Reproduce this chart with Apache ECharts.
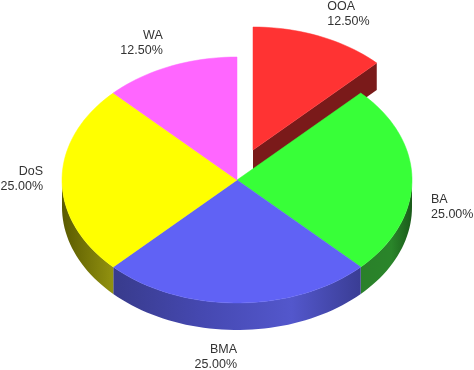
<!DOCTYPE html>
<html>
<head>
<meta charset="utf-8">
<script src="https://cdn.jsdelivr.net/npm/echarts@6/dist/echarts.min.js"></script>
<style>html,body{margin:0;padding:0;background:#fff;}#chart{width:474px;height:370px;}</style>
</head>
<body>
<div id="chart"></div>
<script>
// ---- data ----
const categories = ['OOA', 'BA', 'BMA', 'DoS', 'WA'];
const values = [12.5, 25, 25, 25, 12.5];

// ---- styling / layout ----
const topColors = ['#ff3333', '#38ff38', '#6062f5', '#ffff00', '#ff66ff'];
const sideStops = [
  [[0, '#7a1a1a'], [1, '#8a2020']],
  [[0, '#2a802a'], [0.6, '#2a852a'], [1, '#1a5a1a']],
  [[0, '#383b8c'], [0.35, '#4548b0'], [0.72, '#5357cc'], [1, '#3a3d94']],
  [[0, '#5a5a00'], [1, '#929210']],
  [[0, '#a040a0'], [1, '#c050c0']]
];
const explodedIndex = 0;
const geo = { cx: 237, cy: 180, rx: 175, ry: 123, depth: 27, explodeDx: 16, explodeDy: -30 };

const total = values.reduce((a, b) => a + b, 0);
const startAngle = 90; // degrees, clockwise

function pt(cx, cy, a, dy) {
  const r = a * Math.PI / 180;
  return [cx + geo.rx * Math.cos(r), cy - geo.ry * Math.sin(r) + (dy || 0)];
}

function arcPts(cx, cy, a1, a2, dy) {
  const n = Math.max(2, Math.ceil(Math.abs(a2 - a1) / 2));
  const out = [];
  for (let i = 0; i <= n; i++) out.push(pt(cx, cy, a1 + (a2 - a1) * i / n, dy));
  return out;
}

function renderItem(params, api) {
  const i = params.dataIndex;
  const v = api.value(1);
  let before = 0;
  for (let k = 0; k < i; k++) before += values[k];
  const a1 = startAngle - before / total * 360;
  const a2 = a1 - v / total * 360;
  const ex = i === explodedIndex;
  const cx = geo.cx + (ex ? geo.explodeDx : 0);
  const cy = geo.cy + (ex ? geo.explodeDy : 0);
  const children = [];

  const grad = (stops) => ({
    type: 'linear', x: 0, y: 0, x2: 1, y2: 0,
    colorStops: stops.map(s => ({ offset: s[0], color: s[1] }))
  });

  // outer wall (front-facing part only)
  const lo = Math.max(a2, -180), hi = Math.min(a1, 0);
  if (hi > lo) {
    const top = arcPts(cx, cy, hi, lo, 0);
    const bot = arcPts(cx, cy, lo, hi, geo.depth);
    children.push({
      type: 'polygon', z2: 5,
      shape: { points: top.concat(bot) },
      style: { fill: grad(sideStops[i]) }
    });
  }
  // radial walls for exploded slice
  if (ex) {
    [a1, a2].forEach(a => {
      const o = pt(cx, cy, a, 0);
      const ob = pt(cx, cy, a, geo.depth);
      children.push({
        type: 'polygon', z2: 4,
        shape: { points: [[cx, cy], o, ob, [cx, cy + geo.depth]] },
        style: { fill: sideStops[i][0][1] }
      });
    });
  }
  // top face
  children.push({
    type: 'polygon', z2: 20,
    shape: { points: [[cx, cy]].concat(arcPts(cx, cy, a1, a2, 0)) },
    style: { fill: topColors[i], stroke: topColors[i], lineWidth: 0.5 }
  });

  // label
  const m = (a1 + a2) / 2 * Math.PI / 180;
  const c = Math.cos(m), s = Math.sin(m);
  const lcx = geo.cx + (ex ? geo.explodeDx : 0);
  const lcy = geo.cy + (ex ? geo.explodeDy * 1.3 : 0);
  const lx = lcx + (geo.rx + 19) * c;
  let ly = lcy + 13 + 14 * c - (geo.ry + (s > 0 ? 34 : 30)) * s;
  if (s < 0) ly += -s * 11;
  const pct = (v / total * 100).toFixed(2) + '%';
  children.push({
    type: 'text', z2: 50,
    style: {
      text: categories[i] + '\n' + pct,
      x: lx, y: ly,
      align: c > 0.05 ? 'left' : 'right',
      verticalAlign: 'middle',
      fill: '#333333',
      font: '12.5px "Liberation Sans", Arial, sans-serif',
      lineHeight: 15
    }
  });

  return { type: 'group', children: children };
}

const chart = echarts.init(document.getElementById('chart'), null, { renderer: 'canvas' });
chart.setOption({
  backgroundColor: '#ffffff',
  animation: false,
  series: [{
    type: 'custom',
    coordinateSystem: 'none',
    renderItem: renderItem,
    data: values.map((v, i) => [i, v])
  }]
});
</script>
</body>
</html>
